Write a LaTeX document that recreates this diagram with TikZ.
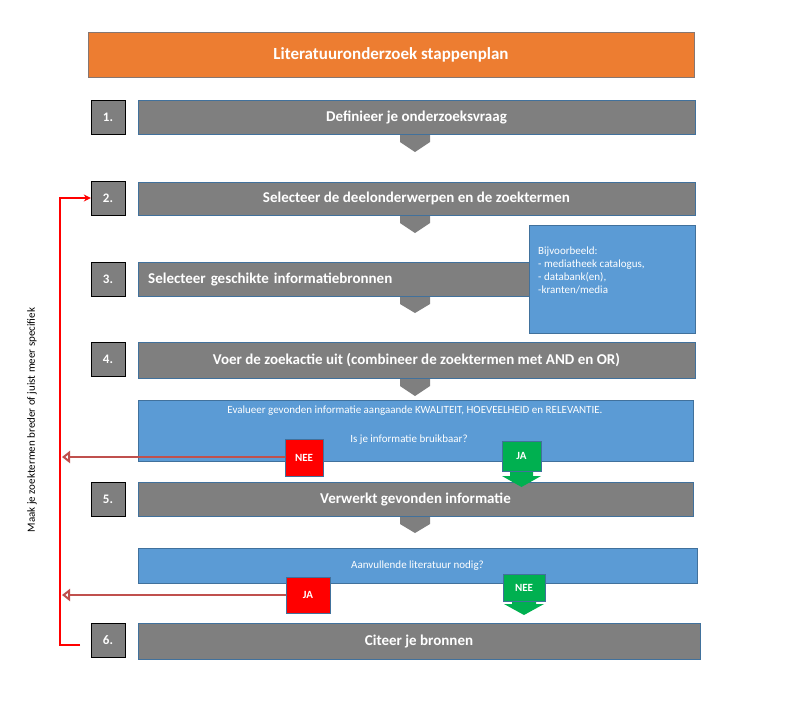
\documentclass[tikz,border=0pt]{standalone}
\usepackage{fontspec}
\setmainfont{Carlito}
\usetikzlibrary{arrows.meta}
\definecolor{og}{HTML}{ED7D31}
\definecolor{gr}{HTML}{7F7F7F}
\definecolor{bl}{HTML}{5B9BD5}
\definecolor{bd}{HTML}{41719C}
\definecolor{rd}{HTML}{FF0000}
\definecolor{gn}{HTML}{00B050}
\definecolor{dr}{HTML}{C0504D}
\begin{document}
\begin{tikzpicture}[x=1pt,y=-1pt,
 numbox/.style={draw=black,fill=gr,text=white,font=\bfseries\fontsize{13}{14}\selectfont,inner sep=0},
 bar/.style={draw=bd,fill=gr,text=white,font=\bfseries\fontsize{15}{17}\selectfont},
 chev/.style={fill=gr},
 bluebox/.style={draw=bd,fill=bl,text=white,font=\fontsize{11}{13}\selectfont},
 tag/.style={draw=bd,text=white,font=\bfseries\fontsize{11}{12}\selectfont},
 back/.style={draw=dr,line width=2.5pt,-{Triangle[open,length=8pt,width=12pt]}},
 down/.style={fill=gn}]
\useasboundingbox (0,0) rectangle (786,713);
\node[draw=bd!60!og,fill=og,text=white,font=\bfseries\fontsize{17}{19}\selectfont,minimum width=606,minimum height=45] (title) at (391,54.5) {Literatuuronderzoek stappenplan};
% number boxes
\foreach \n/\y in {1/117,2/198,3/279,4/359,5/499,6/640}
  \node[numbox,minimum width=34,minimum height=34] (n\n) at (108,\y) {\n.};
% chevrons
\foreach \y/\d in {134/152,215/233,296/313,378/396,516/533}
  \fill[gr] (400,\y) -- (430,\y) -- (430,\y+8) -- (415,\d) -- (400,\y+8) -- cycle;
\node[bar,minimum width=557,minimum height=34] (s1) at (416.5,117) {Definieer je onderzoeksvraag};
\node[bar,minimum width=557,minimum height=33] (s2) at (416.5,198.5) {Selecteer de deelonderwerpen en de zoektermen};
\node[bar,minimum width=400,minimum height=34,anchor=west,text width=380,align=left] (s3) at (138,279) {Selecteer geschikte informatiebronnen};
\node[bluebox,minimum width=166,minimum height=108,anchor=north west,inner sep=0] (ex) at (529,225) {};
\node[anchor=north west,text=white,font=\fontsize{11}{13}\selectfont,align=left,inner sep=0] (ext) at (538,247) {Bijvoorbeeld:\\- mediatheek catalogus,\\- databank(en),\\-kranten/media};
\node[bar,minimum width=557,minimum height=36] (s4) at (416.5,360) {Voer de zoekactie uit (combineer de zoektermen met AND en OR)};
\node[bluebox,minimum width=555,minimum height=61,anchor=north west,inner sep=0] (ev) at (138,400) {};
\node[text=white,font=\fontsize{11}{13}\selectfont,inner sep=0] (evt) at (415,411) {Evalueer gevonden informatie aangaande KWALITEIT, HOEVEELHEID en RELEVANTIE.};
\node[text=white,font=\fontsize{11}{13}\selectfont,inner sep=0] (q1) at (409,440) {Is je informatie bruikbaar?};
\node[bar,minimum width=555,minimum height=34] (s5) at (415.5,499) {Verwerkt gevonden informatie};
\node[bluebox,minimum width=559,minimum height=35] (av) at (417.5,565.5) {Aanvullende literatuur nodig?};
\node[bar,minimum width=562,minimum height=36] (s6) at (419,641) {Citeer je bronnen};
% green tags
\fill[gn] (510,470) -- (533,470) -- (533,476) -- (541,476) -- (521.5,487) -- (502,476) -- (510,476) -- cycle;
\node[tag,fill=gn,minimum width=39,minimum height=30] (ja1) at (521.5,456) {JA};
\fill[gn] (512,600) -- (536,600) -- (536,604) -- (544,604) -- (524,615) -- (504,604) -- (512,604) -- cycle;
\node[tag,fill=gn,minimum width=42,minimum height=27] (nee2) at (524,588) {NEE};
% back arrows
\coordinate (b1) at (62,457);
\coordinate (b2) at (62,595);
\draw[back] (285,457) -- (b1);
\draw[back] (286,595) -- (b2);
\node[tag,fill=rd,minimum width=38,minimum height=37] (nee1) at (304,457.5) {NEE};
\node[tag,fill=rd,minimum width=44,minimum height=36] (ja2) at (308,595) {JA};
% loop
\coordinate (lb) at (80,645);
\draw[rd,line width=2pt,-{Stealth[length=7pt,width=7pt]}] (lb) -- (60,645) -- (60,198) -- (n2.west);
\node[rotate=90,font=\fontsize{11}{13}\selectfont,inner sep=0] (side) at (32,420) {Maak je zoektermen breder of juist meer specifiek};
\end{tikzpicture}
\end{document}
